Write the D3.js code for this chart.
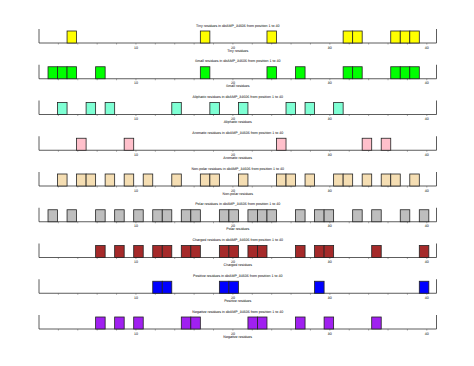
<!DOCTYPE html>
<html>
<head>
<meta charset="utf-8">
<script src="https://cdn.jsdelivr.net/npm/d3@7"></script>
<style>
  body { margin: 0; background: #fff; }
  text { font-family: "Liberation Sans", Arial, sans-serif; fill: #000; text-rendering: geometricPrecision; }
</style>
</head>
<body>
<svg id="chart" width="474" height="366"></svg>
<script>
const seqId = 'dbAMP_34606';
const seqLen = 40;

const categories = ['Tiny', 'Small', 'Aliphatic', 'Aromatic', 'Non-polar', 'Polar', 'Charged', 'Positive', 'Negative'];
const colors = ['#ffff00', '#00ff00', '#7fffd4', '#ffc0cb', '#f5deb3', '#bebebe', '#a52a2a', '#0000ff', '#a020f0'];

// residue positions flagged in each group
const tiny = [3, 17, 24, 32, 33, 37, 38, 39];
const small = [1, 2, 3, 6, 17, 24, 27, 32, 33, 37, 38, 39];
const aliphatic = [2, 5, 7, 14, 18, 21, 26, 28, 31];
const aromatic = [4, 9, 25, 34, 36];
const nonPolar = [2, 4, 5, 7, 9, 11, 14, 17, 18, 21, 25, 26, 28, 31, 32, 34, 36, 37, 39];
const polar = [1, 3, 6, 8, 10, 12, 13, 15, 16, 19, 20, 22, 23, 24, 27, 29, 30, 33, 35, 38, 40];
const charged = [6, 8, 10, 12, 13, 15, 16, 19, 20, 22, 23, 27, 29, 30, 35, 40];
const positive = [12, 13, 19, 20, 29, 40];
const negative = [6, 8, 10, 15, 16, 22, 23, 27, 30, 35];

const tickValues = [10, 20, 30, 40];
const minorTicks = d3.range(2, 41, 2);

const groups = [tiny, small, aliphatic, aromatic, nonPolar, polar, charged, positive, negative];

const svg = d3.select('#chart');

// boxes and the axis do not share exactly the same scale in the original
const xBox = d3.scaleLinear().domain([0, 41]).range([38.5, 38.5 + 41 * 9.52]);
const xAxis = d3.scaleLinear().domain([0, 41]).range([39, 436.5]);
const yPanel = d3.scaleLinear().domain([0, 8]).range([43, 329]);

const fs = 3.6;
const boxH = 12;

categories.forEach((cat, i) => {
    const y0 = yPanel(i);
    const g = svg.append('g');

    g.append('text')
        .attr('x', (xAxis(0) + xAxis(41)) / 2)
        .attr('y', y0 - 16.5)
        .attr('text-anchor', 'middle')
        .attr('font-size', fs)
        .text(`${cat} residues in ${seqId} from position 1 to ${seqLen}`);

    // frame: bottom line and two side bars
    g.append('path')
        .attr('d', `M${xAxis(0)},${y0 - 14}V${y0}H${xAxis(41)}V${y0 - 14}`)
        .attr('fill', 'none')
        .attr('stroke', '#333')
        .attr('stroke-width', 0.8);

    g.selectAll('line.minor')
        .data(minorTicks)
        .enter()
        .append('line')
        .attr('x1', d => xAxis(d)).attr('x2', d => xAxis(d))
        .attr('y1', y0).attr('y2', y0 + 1.5)
        .attr('stroke', '#555')
        .attr('stroke-width', 0.5);

    g.selectAll('text.tick')
        .data(tickValues)
        .enter()
        .append('text')
        .attr('x', d => xAxis(d))
        .attr('y', y0 + 5.5)
        .attr('text-anchor', 'middle')
        .attr('font-size', fs)
        .text(d => d);

    g.append('text')
        .attr('x', (xAxis(0) + xAxis(41)) / 2)
        .attr('y', y0 + 8.5)
        .attr('text-anchor', 'middle')
        .attr('font-size', fs)
        .text(`${cat} residues`);

    g.selectAll('rect')
        .data(groups[i])
        .enter()
        .append('rect')
        .attr('x', d => xBox(d))
        .attr('y', y0 - boxH)
        .attr('width', d => xBox(d + 1) - xBox(d))
        .attr('height', boxH)
        .attr('fill', colors[i])
        .attr('stroke', '#222')
        .attr('stroke-width', 0.8);
});
</script>
</body>
</html>
